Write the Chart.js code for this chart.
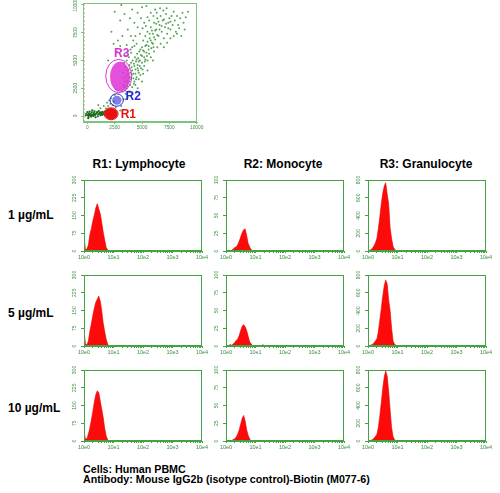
<!DOCTYPE html>
<html><head><meta charset="utf-8">
<script src="https://cdn.jsdelivr.net/npm/chart.js@4.4.0/dist/chart.umd.min.js"></script>
<style>
body{margin:0;width:500px;height:493px;background:#fff;position:relative;overflow:hidden;font-family:"Liberation Sans",Arial,sans-serif;}
.lbl{position:absolute;font-weight:bold;color:#000;white-space:nowrap;height:14px;line-height:14px;}
</style></head><body>
<script>
const doses=["1 µg/mL","5 µg/mL","10 µg/mL"];
const regions=["R1: Lymphocyte","R2: Monocyte","R3: Granulocyte"];
const cellsText="Cells: Human PBMC";
const antibodyText="Antibody: Mouse IgG2b (isotype control)-Biotin (M077-6)";

/* histogram channels (log steps) and counts */
const bins=[1.00,1.12,1.26,1.41,1.58,1.78,2.00,2.24,2.51,2.82,3.16,3.55,3.98,4.47,5.01,5.62,6.31,7.08,7.94,8.91,10.0,11.2,12.6,14.1,15.8,17.8,20.0];
const lympho1=[60,6,8,25,70,95,128,152,182,200,178,158,122,80,48,16,5,0,0,0,0,0,0,0,0,0,0];
const lympho5=[63,10,4,22,62,95,130,160,185,198,211,190,150,97,62,30,8,0,0,0,0,0,0,0,0,0,0];
const lympho10=[40,8,10,30,55,90,125,165,195,212,205,170,135,100,55,22,6,0,0,0,0,0,0,0,0,0,0];
const mono1=[0,0,0,0,1,3,5,6,9,14,20,26,30,31,22,11,6,2,0,0,0,0,0,0,0,0,0];
const mono5=[0,0,1,2,1,3,5,8,10,15,22,28,30,27,22,14,6,3,1,0,0,0,0,0,0,2,0];
const mono10=[0,0,0,0,1,2,3,6,10,16,24,32,36,28,16,8,3,0,0,0,0,0,0,0,0,0,0];
const gran1=[5,8,15,30,55,90,140,250,380,530,650,730,770,640,530,260,140,50,20,6,0,0,0,0,0,0,0];
const gran5=[3,5,10,18,35,55,80,160,290,420,560,680,745,700,520,400,200,55,20,8,0,0,0,0,0,0,0];
const gran10=[3,5,8,15,30,50,75,150,280,430,590,720,790,730,560,350,150,50,15,5,0,0,0,0,0,0,0];
const yMax=[300,100,800];
const decades=[1,10,100,1000,10000];

/* scatter (FSC/SSC) */
const scatterTicks=[0,2500,5000,7500,10000];
const gateNames=["R1","R2","R3"];
const gateColors=["#e81010","#2a2ad8","#e030d8"];
const gateX=[2170,2680,2870];
const gateY=[200,1440,3600];
const gateRX=[640,610,1190];
const gateRY=[540,560,1500];
const gateCoreX=[2170,2700,2990];
const gateCoreY=[200,1420,3540];
const gateCoreRX=[600,420,910];
const gateCoreRY=[520,400,1350];
const gateLabelX=[3750,4200,3140];
const gateLabelY=[90,1740,5650];
const coreCluster=[[50,100],[150,250],[250,50],[300,180],[400,320],[500,120],[600,260],[700,80],[800,200],[900,350],[1000,150],[1100,280],[1200,60],[1300,220],[1400,380],[1500,160],[100,-100],[200,400],[350,-50],[450,500],[550,0],[650,420],[750,-120],[850,300],[950,-30],[1050,450],[1150,180],[1250,330],[1350,100],[1450,260],[1600,400],[1700,300],[1800,520],[1900,420],[2000,600],[1650,150],[-100,200],[-150,50],[0,350],[80,-200],[200,120],[420,60],[620,150],[120,30]];
const cloud=[[1700,700],[1900,900],[2100,1100],[2300,1000],[2400,1300],[2200,1600],[2500,1900],[2000,1400],[1800,1200],[2600,800],[3100,900],[3300,1500],[3200,2200],[2800,2300],[2600,2400],[3400,2600],[1500,900],[1200,700],[1000,1000],[3000,500],
[3500,2000],[3600,2500],[3700,3000],[3800,2200],[3900,2800],[4000,3300],[4100,2600],[4200,3800],[4300,3100],[4400,4200],[4500,3500],[4600,4600],[4700,3900],[4800,5000],[4900,4300],[5000,5400],[3550,3600],[3650,4100],[3750,3400],[3850,4600],[3950,3900],[4050,4400],[4150,5000],[4250,4700],[4350,5300],[4450,4900],[4550,5600],[4650,5200],[4750,5800],[4850,6000],[3400,3100],[3450,4400],[3600,5000],[3800,5300],[4000,5700],[3300,2800],[4100,2000],[4400,2800],[4700,3300],[5100,3800],[3700,1700],[3900,2200],[4600,2500],[5200,4500],[5300,5100],[3250,3900],[3350,4800],[3550,5400],[3950,6000],[4300,6300],
[3600,3200],[3700,3800],[3800,4200],[3900,3500],[4000,4800],[4100,4100],[4200,3400],[4300,4500],[4400,3800],[4500,5100],[4600,4300],[4700,4900],[4800,4500],[4900,5500],[5000,4800],[5100,5900],[5200,5300],[5300,6300],[5400,5700],[5500,6700],[5600,6300],[5700,7400],[5800,6800],[5900,7700],[6000,6500],[6100,7100],[6200,7700],[6300,8300],[6400,7300],[6500,8500],[6600,7800],[6800,8100],[7000,8700],[7200,8300],[7400,7900],[7600,8500],[3450,2300],[3650,2700],[3850,3100],[4050,3700],[4250,2900],[4450,3300],[4650,4100],[4850,3700],[5050,4200],[5250,4900],[5450,5400],[5650,5600],[5850,6100],[6050,6200],[3500,1500],[4000,1800],[4500,2200],[5000,3100],[5500,4100],[6000,5000],[3300,3400],[3400,5600],[3700,5800],[4100,6200],
[5000,6200],[5100,6800],[5200,5800],[5300,7200],[5400,6400],[5500,7600],[5600,6000],[5700,7000],[5800,8000],[5900,6600],[6000,7400],[6100,8400],[6200,6900],[6300,7800],[6400,8800],[6500,7200],[6600,8200],[6700,9000],[6800,7600],[6900,8600],[7000,7000],[7100,8000],[7200,9200],[7300,7400],[7400,8400],[7500,8800],[7600,7800],[7700,9000],[7800,8200],[7900,9400],[8000,8600],[8100,7600],[8200,9000],[8300,8200],[8500,8800],[5500,5000],[5800,5300],[6100,5800],[6400,6200],[6700,6500],[7000,6200],[7300,6600],[7600,7000],[7900,7200],[8200,7400],[8400,7900],[5200,8400],[5500,8900],[5800,9300],[6200,9600],[4800,7400],[4600,8000],[4900,8800],[4400,7200],[4200,6800],[4500,6500],[5050,7900],[5350,8100],[5650,8600],[6050,9000],[6350,9300],[6650,9700],[6950,9500],[7250,9700],[8700,9300],[8800,8400],[9000,8900],[8600,7200],[8900,7800],[9200,9400],
[2500,9400],[3000,8600],[3400,9200],[3700,7800],[3900,8800],[4100,9600],[3200,7200],[2800,6800],[3600,6400],[4300,8400],[2200,7600],[3100,10000],[4600,9300],[5000,9800],[5400,9900],[2700,5800],[3000,6300],[2400,6500],[1900,5000],[4000,7200]];
const threshold=-330;

const colLeft=[84,226,368],rowTop=[180,275,370];
const green="#43a343",labelGreen="#3b8f3b";

function addCanvas(left,top,w,h){
let c=document.createElement("canvas");
c.width=w;c.height=h;
c.style.cssText="position:absolute;left:"+left+"px;top:"+top+"px;width:"+w+"px;height:"+h+"px";
document.body.appendChild(c);
return c;
}
function addText(txt,x,y,size,center){
let d=document.createElement("div");
d.className="lbl";d.textContent=txt;d.style.fontSize=size+"px";
d.style.top=(y-7)+"px";
if(center){d.style.left=(x-100)+"px";d.style.width="200px";d.style.textAlign="center";}
else d.style.left=x+"px";
document.body.appendChild(d);
}

/* frame + rotated y labels */
const frame={id:"frame",afterDraw(c,a,o){
let ctx=c.ctx,ca=c.chartArea,s=c.scales.y;
ctx.save();
ctx.strokeStyle=o.color;ctx.lineWidth=1;
ctx.strokeRect(ca.left+0.5,ca.top+0.5,ca.right-ca.left-1,ca.bottom-ca.top-1);
ctx.fillStyle=labelGreen;ctx.font=o.size+'px "Liberation Sans",Arial';
ctx.textAlign="center";ctx.textBaseline="middle";
s.ticks.forEach(t=>{
let y=s.getPixelForValue(t.value);
ctx.save();ctx.translate(ca.left-o.off,y);ctx.rotate(-Math.PI/2);ctx.fillText(String(t.value),0,0);ctx.restore();
});
ctx.restore();
}};

function histChart(counts,ymax,left,top){
let YW=16,PT=6,PR=10,XH=12,W=118,H=71;
let cv=addCanvas(left-YW,top-PT,YW+W+PR,PT+H+XH);
new Chart(cv,{
type:"line",
data:{datasets:[{data:bins.map((b,i)=>({x:b,y:counts[i]})),fill:"origin",backgroundColor:"#ff0a0a",borderColor:"#e00000",borderWidth:0.6,pointRadius:0,tension:0}]},
options:{responsive:false,animation:false,devicePixelRatio:1,events:[],
layout:{padding:{top:PT,right:PR,left:0,bottom:0}},
plugins:{legend:{display:false},tooltip:{enabled:false},frame:{color:green,size:5,off:9}},
scales:{
x:{type:"logarithmic",min:1,max:10000,
afterBuildTicks:s=>{let t=[];[1,10,100,1000].forEach(d=>{for(let m=1;m<10;m++)t.push({value:m*d});});t.push({value:10000});s.ticks=t;},
afterFit:s=>{s.height=XH;},
ticks:{autoSkip:false,maxRotation:0,minRotation:0,padding:1,color:labelGreen,font:{size:5.5,family:"Liberation Sans"},
callback:v=>decades.includes(v)?"10e"+Math.round(Math.log10(v)):""},
grid:{drawOnChartArea:false,tickLength:2,color:green},border:{color:green}},
y:{min:0,max:ymax,
afterBuildTicks:s=>{let t=[];for(let k=0;k<=4;k++)t.push({value:ymax*k/4});s.ticks=t;},
afterFit:s=>{s.width=YW;},
ticks:{display:false},
grid:{drawOnChartArea:false,tickLength:3,color:green},border:{color:green}}
}},
plugins:[frame]
});
}

/* gates on scatter */
const gates={id:"gates",afterDatasetsDraw(c){
let ctx=c.ctx,xs=c.scales.x,ys=c.scales.y;
ctx.save();
gateNames.forEach((n,i)=>{
let cx=xs.getPixelForValue(gateX[i]),cy=ys.getPixelForValue(gateY[i]);
let rx=Math.abs(xs.getPixelForValue(gateX[i]+gateRX[i])-cx),ry=Math.abs(ys.getPixelForValue(gateY[i]+gateRY[i])-cy);
let kx=xs.getPixelForValue(gateCoreX[i]),ky=ys.getPixelForValue(gateCoreY[i]);
let krx=Math.abs(xs.getPixelForValue(gateCoreX[i]+gateCoreRX[i])-kx),kry=Math.abs(ys.getPixelForValue(gateCoreY[i]+gateCoreRY[i])-ky);
ctx.globalAlpha=i==0?1:(i==1?0.6:0.85);
ctx.beginPath();ctx.ellipse(kx,ky,krx,kry,0,0,Math.PI*2);ctx.fillStyle=gateColors[i];ctx.fill();
ctx.globalAlpha=1;
ctx.beginPath();ctx.ellipse(cx,cy,rx,ry,0,0,Math.PI*2);ctx.strokeStyle=gateColors[i];ctx.lineWidth=1;ctx.stroke();
ctx.fillStyle=gateColors[i];ctx.font='bold 12px "Liberation Sans",Arial';ctx.textAlign="center";ctx.textBaseline="middle";
ctx.fillText(n,xs.getPixelForValue(gateLabelX[i]),ys.getPixelForValue(gateLabelY[i]));
});
ctx.restore();
}};

function scatterChart(){
let YW=14,PT=5,PR=10,XH=10,W=114,H=119;
let cv=addCanvas(83-YW,3-PT,YW+W+PR,PT+H+XH);
new Chart(cv,{
type:"scatter",
data:{datasets:[
{data:cloud.map(p=>({x:p[0],y:p[1]})),pointRadius:1,borderWidth:0,backgroundColor:"rgba(46,140,46,0.8)"},
{data:coreCluster.map(p=>({x:p[0],y:p[1]})),pointRadius:1.1,borderWidth:0,backgroundColor:"#176b17"},
{type:"line",data:[{x:threshold,y:-540},{x:threshold,y:10180}],borderColor:"#e02020",borderWidth:1,borderDash:[2,2],pointRadius:0}
]},
options:{responsive:false,animation:false,devicePixelRatio:1,events:[],
layout:{padding:{top:PT,right:PR,left:0,bottom:0}},
plugins:{legend:{display:false},tooltip:{enabled:false},frame:{color:"#7cc47c",size:4.8,off:7}},
scales:{
x:{type:"linear",min:-400,max:10030,
afterBuildTicks:s=>{s.ticks=scatterTicks.map(v=>({value:v}));},
afterFit:s=>{s.height=XH;},
ticks:{autoSkip:false,maxRotation:0,padding:1,color:labelGreen,font:{size:4.8,family:"Liberation Sans"},callback:v=>String(v)},
grid:{drawOnChartArea:false,tickLength:2,color:"#7cc47c"},border:{color:"#7cc47c"}},
y:{type:"linear",min:-540,max:10180,
afterBuildTicks:s=>{s.ticks=scatterTicks.map(v=>({value:v}));},
afterFit:s=>{s.width=YW;},
ticks:{display:false},
grid:{drawOnChartArea:false,tickLength:2,color:"#7cc47c"},border:{color:"#7cc47c"}}
}},
plugins:[gates,frame]
});
}

scatterChart();
const histData=[[lympho1,mono1,gran1],[lympho5,mono5,gran5],[lympho10,mono10,gran10]];
histData.forEach((row,r)=>row.forEach((counts,c)=>histChart(counts,yMax[c],colLeft[c],rowTop[r])));

regions.forEach((t,i)=>addText(t,[139,283,426][i],164,12,true));
doses.forEach((t,i)=>addText(t,8,[215,313,408][i],12,false));
addText(cellsText,83,469,10.7,false);
addText(antibodyText,83,479,10.7,false);
</script>
</body></html>
